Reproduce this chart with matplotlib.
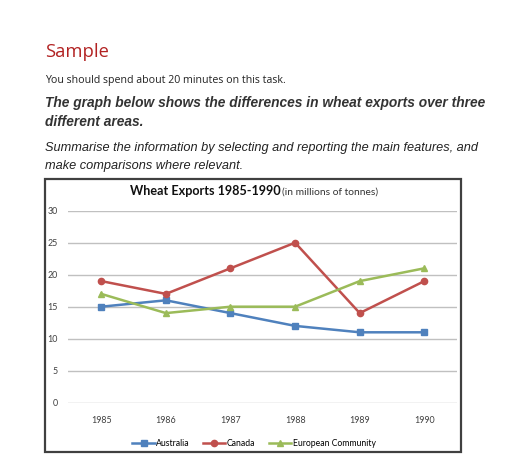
import matplotlib
matplotlib.use("Agg")
import matplotlib.pyplot as plt
from matplotlib.patches import Rectangle

years = ["1985", "1986", "1987", "1988", "1989", "1990"]
australia = [15, 16, 14, 12, 11, 11]
canada = [19, 17, 21, 25, 14, 19]
european_community = [17, 14, 15, 15, 19, 21]
y_ticks = [0, 5, 10, 15, 20, 25, 30]

W, H = 512, 463


def fx(px):
    return px / W


def fy(py):
    return 1 - py / H


fig = plt.figure(figsize=(W / 100, H / 100), dpi=100)
fig.patch.set_facecolor("white")

# header text of the task sheet
fig.text(fx(45), fy(57), "Sample", fontsize=13.2, color="#b22222",
         family="Open Sans", va="baseline")
fig.text(fx(45), fy(83.5), "You should spend about 20 minutes on this task.",
         fontsize=7.65, color="#222222", family="Open Sans", va="baseline")
fig.text(fx(45), fy(107.5),
         "The graph below shows the differences in wheat exports over three",
         fontsize=9.95, color="#333333", family="Liberation Sans",
         weight="bold", style="italic", va="baseline")
fig.text(fx(45), fy(125.5), "different areas.",
         fontsize=9.95, color="#333333", family="Liberation Sans",
         weight="bold", style="italic", va="baseline")
fig.text(fx(45), fy(151.5),
         "Summarise the information by selecting and reporting the main features, and",
         fontsize=9.2, color="#222222", family="Liberation Sans",
         style="italic", va="baseline")
fig.text(fx(45), fy(168.5), "make comparisons where relevant.",
         fontsize=9.2, color="#222222", family="Liberation Sans",
         style="italic", va="baseline")

# chart frame
fig.patches.append(Rectangle((fx(45), fy(452)), fx(461 - 45), (452 - 179) / H,
                             transform=fig.transFigure, fill=False,
                             edgecolor="#404040", linewidth=1.6))

ax = fig.add_axes([fx(68.3), fy(402.7), fx(457.3 - 68.3), (402.7 - 210.7) / H])
x = range(len(years))
ax.plot(x, australia, color="#4F81BD", marker="s", markersize=4.5, linewidth=1.8,
        label="Australia")
ax.plot(x, canada, color="#C0504D", marker="o", markersize=4.5, linewidth=1.8,
        label="Canada")
ax.plot(x, european_community, color="#9BBB59", marker="^", markersize=5,
        linewidth=1.8, label="European Community")

ax.set_xlim(-0.51, 5.51)
ax.set_ylim(0, 30)
ax.set_yticks(y_ticks)
ax.set_xticks(list(x))
ax.set_xticklabels(years)
ax.yaxis.grid(True, color="#c0c0c0", linewidth=1)
ax.set_axisbelow(True)
for side in ["top", "right", "left", "bottom"]:
    ax.spines[side].set_visible(False)
ax.tick_params(length=0, labelsize=6.4, labelcolor="#404040")
ax.tick_params(axis="y", pad=7.5)
ax.tick_params(axis="x", pad=9.5)
for lbl in ax.get_xticklabels() + ax.get_yticklabels():
    lbl.set_family("Lato")

# chart title
t1 = fig.text(fx(129.5), fy(195), "Wheat Exports 1985-1990", fontsize=9.1,
              weight="bold", family="Lato", color="#111111", va="baseline")
fig.canvas.draw()
bb = t1.get_window_extent()
fig.text(bb.x1 / W + fx(2), fy(195), "(in millions of tonnes)", fontsize=7.4,
         family="Lato", color="#333333", va="baseline")

fig.legend(loc="center", bbox_to_anchor=(fx(254), fy(443.5)), ncol=3,
           frameon=False, handlelength=2.6, columnspacing=1.5,
           handletextpad=0.2, prop={"family": "Lato", "size": 6.2})

fig.savefig("out.png", dpi=100)
